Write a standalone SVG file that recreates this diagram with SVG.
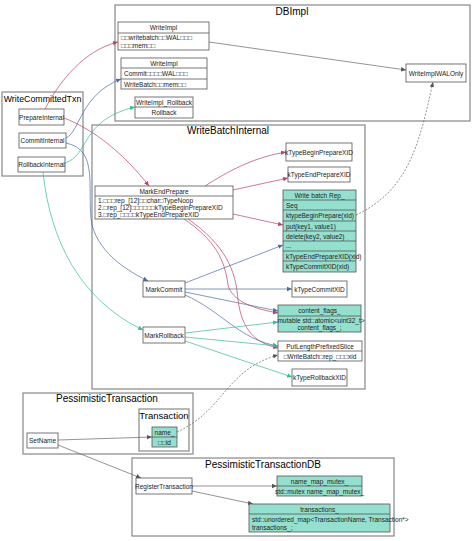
<svg xmlns="http://www.w3.org/2000/svg" width="474" height="541" viewBox="0 0 474 541">
<style>
text{font-family:"Liberation Sans","DejaVu Sans",Arial,sans-serif;fill:#222}
.t{font-size:6.5px;text-anchor:middle}
.l{font-size:6.5px;text-anchor:start}
.ct{font-size:10px;text-anchor:middle;fill:#000}
.cl{fill:none;stroke:#888;stroke-width:1.2}
.n{fill:#fff;stroke:#555;stroke-width:0.8}
.r{fill:#93e0cf;stroke:#555;stroke-width:0.8}
.sp{stroke:#555;stroke-width:0.8}
.e{fill:none;stroke-width:0.7}
.red{stroke:#c04060}
.blue{stroke:#4a6aa8}
.green{stroke:#30c090}
.gray{stroke:#666}
.dash{stroke-dasharray:2,1.5}
</style>
<defs>
<marker id="ar" markerWidth="6" markerHeight="6" refX="5" refY="3" orient="auto" markerUnits="userSpaceOnUse"><path d="M0,0.8 L5,3 L0,5.2z" fill="#c04060"/></marker>
<marker id="ab" markerWidth="6" markerHeight="6" refX="5" refY="3" orient="auto" markerUnits="userSpaceOnUse"><path d="M0,0.8 L5,3 L0,5.2z" fill="#4a6aa8"/></marker>
<marker id="ag" markerWidth="6" markerHeight="6" refX="5" refY="3" orient="auto" markerUnits="userSpaceOnUse"><path d="M0,0.8 L5,3 L0,5.2z" fill="#30c090"/></marker>
<marker id="ay" markerWidth="6" markerHeight="6" refX="5" refY="3" orient="auto" markerUnits="userSpaceOnUse"><path d="M0,0.8 L5,3 L0,5.2z" fill="#555"/></marker>
</defs>
<rect width="474" height="541" fill="#fff"/>

<g id="clusters">
<g id="cluster_DBImpl"><rect class="cl" x="115" y="5" width="355" height="116"/><text class="ct" x="292" y="15">DBImpl</text></g>
<g id="cluster_WriteCommittedTxn"><rect class="cl" x="2" y="92" width="81" height="84"/><text class="ct" x="42.5" y="102" style="font-size:8.8px">WriteCommittedTxn</text></g>
<g id="cluster_WriteBatchInternal"><rect class="cl" x="92" y="125" width="273" height="264"/><text class="ct" x="228" y="134">WriteBatchInternal</text></g>
<g id="cluster_PessimisticTransaction"><rect class="cl" x="23" y="393" width="170" height="61"/><text class="ct" x="107" y="402">PessimisticTransaction</text></g>
<g id="cluster_Transaction"><rect class="cl" x="139" y="409" width="50" height="42"/><text class="ct" x="164" y="419" style="font-size:9.5px">Transaction</text></g>
<g id="cluster_PessimisticTransactionDB"><rect class="cl" x="132" y="458" width="262" height="78"/><text class="ct" x="263" y="468">PessimisticTransactionDB</text></g>
</g>

<g id="edges">
<path class="e red" d="M45,109 C60,80 85,50 118,42" marker-end="url(#ar)"/>
<path class="e red" d="M64,118 C95,130 125,155 149,186" marker-end="url(#ar)"/>
<path class="e blue" d="M66,138 C80,132 80,95 121,79" marker-end="url(#ab)"/>
<path class="e blue" d="M66,143 C100,150 86,190 92,225 C100,255 130,272 148,281" marker-end="url(#ab)"/>
<path class="e green" d="M65,163 C90,155 80,120 135,107" marker-end="url(#ag)"/>
<path class="e green" d="M43,172 C50,240 80,300 143,330" marker-end="url(#ag)"/>
<path class="e gray" d="M209,42 L406,70" marker-end="url(#ay)"/>
<path class="e gray dash" d="M356,215 C410,190 420,140 433,82" marker-end="url(#ay)"/>
<path class="e red" d="M205,186 C230,170 255,157 286,152" marker-end="url(#ar)"/>
<path class="e red" d="M233,190 L288,178" marker-end="url(#ar)"/>
<path class="e red" d="M233,214 L283,225" marker-end="url(#ar)"/>
<path class="e red" d="M184,219 C215,240 225,260 228,285 C232,300 250,308 278,313" marker-end="url(#ar)"/>
<path class="e red" d="M188,219 C225,245 236,270 238,300 C242,330 255,343 278,348" marker-end="url(#ar)"/>
<path class="e blue" d="M185,283 L283,245" marker-end="url(#ab)"/>
<path class="e blue" d="M185,289 L292,289" marker-end="url(#ab)"/>
<path class="e blue" d="M185,292 L278,311" marker-end="url(#ab)"/>
<path class="e blue" d="M185,295 C220,310 240,340 278,346" marker-end="url(#ab)"/>
<path class="e green" d="M185,333 L278,322" marker-end="url(#ag)"/>
<path class="e green" d="M185,337 L278,346" marker-end="url(#ag)"/>
<path class="e green" d="M185,341 L292,377" marker-end="url(#ag)"/>
<path class="e gray dash" d="M177,432 C225,410 225,370 278,355" marker-end="url(#ay)"/>
<path class="e gray" d="M58,440 L152,437" marker-end="url(#ay)"/>
<path class="e gray" d="M58,445 L141,478" marker-end="url(#ay)"/>
<path class="e gray" d="M192,486 L277,486" marker-end="url(#ay)"/>
<path class="e gray" d="M192,491 L253,504" marker-end="url(#ay)"/>
</g>

<g id="WriteImpl1"><rect class="n" x="118" y="22" width="91" height="28"/><line class="sp" x1="118" y1="33" x2="209" y2="33"/><text class="t" x="163.5" y="30">WriteImpl</text><text class="l" x="121" y="40">□□writebatch□□WAL□□□</text><text class="l" x="121" y="47.5">□□□mem□□</text></g>
<g id="WriteImpl2"><rect class="n" x="121" y="58" width="86" height="31"/><line class="sp" x1="121" y1="68" x2="207" y2="68"/><line class="sp" x1="121" y1="79" x2="207" y2="79"/><text class="t" x="164" y="65.5">WriteImpl</text><text class="l" x="124" y="76">Commit□□□□WAL□□□</text><text class="l" x="124" y="86.5">WriteBatch□□mem□□</text></g>
<g id="WriteImpl_Rollback"><rect class="n" x="135" y="97" width="58" height="21"/><line class="sp" x1="135" y1="107" x2="193" y2="107"/><text class="t" x="164" y="104.5">WriteImpl_Rollback</text><text class="t" x="164" y="115">Rollback</text></g>
<g id="WriteImplWALOnly"><rect class="n" x="406" y="64" width="60" height="18"/><text class="t" x="436" y="75.5">WriteImplWALOnly</text></g>

<g id="PrepareInternal"><rect class="n" x="19" y="109" width="45" height="16"/><text class="t" x="41.5" y="119.5">PrepareInternal</text></g>
<g id="CommitInternal"><rect class="n" x="19" y="133" width="47" height="15"/><text class="t" x="42.5" y="143">CommitInternal</text></g>
<g id="RollbackInternal"><rect class="n" x="18" y="157" width="47" height="15"/><text class="t" x="41.5" y="167">RollbackInternal</text></g>

<g id="kTypeBeginPrepareXID"><rect class="n" x="286" y="143" width="66" height="18"/><text class="t" x="319" y="154.5">kTypeBeginPrepareXID</text></g>
<g id="kTypeEndPrepareXID"><rect class="n" x="288" y="167" width="62" height="15"/><text class="t" x="319" y="177">kTypeEndPrepareXID</text></g>
<g id="MarkEndPrepare"><rect class="n" x="95" y="186" width="138" height="33"/><line class="sp" x1="95" y1="196" x2="233" y2="196"/><text class="t" x="164" y="193.5">MarkEndPrepare</text><text class="l" x="98" y="203">1.□□□rep_[12]□□char□TypeNoop</text><text class="l" x="98" y="210">2.□rep_[12]□□□□□□kTypeBeginPrepareXID</text><text class="l" x="98" y="217">3.□rep_□□□□kTypeEndPrepareXID</text></g>
<g id="WriteBatchRep"><rect class="r" x="283" y="190" width="73" height="82"/>
<line class="sp" x1="283" y1="200" x2="356" y2="200"/><line class="sp" x1="283" y1="210" x2="356" y2="210"/><line class="sp" x1="283" y1="221" x2="356" y2="221"/><line class="sp" x1="283" y1="231" x2="356" y2="231"/><line class="sp" x1="283" y1="241" x2="356" y2="241"/><line class="sp" x1="283" y1="251" x2="356" y2="251"/><line class="sp" x1="283" y1="261" x2="356" y2="261"/>
<text class="t" x="319.5" y="197.5">Write batch Rep_</text><text class="l" x="286" y="207.5">Seq</text><text class="l" x="286" y="218">ktypeBeginPrepare(xid)</text><text class="l" x="286" y="228.5">put(key1, value1)</text><text class="l" x="286" y="238.5">delete(key2, value2)</text><text class="l" x="286" y="248">...</text><text class="l" x="286" y="258.5">kTypeEndPrepareXID(xid)</text><text class="l" x="286" y="269">kTypeCommitXID(xid)</text></g>
<g id="MarkCommit"><rect class="n" x="143" y="281" width="42" height="16"/><text class="t" x="164" y="291.5">MarkCommit</text></g>
<g id="kTypeCommitXID"><rect class="n" x="292" y="281" width="55" height="16"/><text class="t" x="319.5" y="291.5">kTypeCommitXID</text></g>
<g id="content_flags"><rect class="r" x="278" y="305" width="83" height="27"/><line class="sp" x1="278" y1="316" x2="361" y2="316"/><text class="t" x="319.5" y="313">content_flags_</text><text class="t" x="321" y="322.5">mutable std::atomic&lt;uint32_t&gt;</text><text class="t" x="319.5" y="329.5">content_flags_;</text></g>
<g id="MarkRollback"><rect class="n" x="143" y="327" width="42" height="16"/><text class="t" x="164" y="337.5">MarkRollback</text></g>
<g id="PutLengthPrefixedSlice"><rect class="n" x="278" y="341" width="84" height="20"/><line class="sp" x1="278" y1="351" x2="362" y2="351"/><text class="t" x="320" y="348.5">PutLengthPrefixedSlice</text><text class="t" x="320" y="358.5">□WriteBatch□rep_□□□xid</text></g>
<g id="kTypeRollbackXID"><rect class="n" x="292" y="369" width="55" height="17"/><text class="t" x="319.5" y="380">kTypeRollbackXID</text></g>

<g id="SetName"><rect class="n" x="27" y="433" width="31" height="15"/><text class="t" x="42.5" y="443">SetName</text></g>
<g id="name_"><rect class="r" x="152" y="427" width="25" height="20"/><line class="sp" x1="152" y1="437" x2="177" y2="437"/><text class="t" x="164.5" y="434.5">name_</text><text class="t" x="164.5" y="444.5">□□id</text></g>

<g id="RegisterTransaction"><rect class="n" x="136" y="478" width="56" height="16"/><text class="t" x="164" y="488.5">RegisterTransaction</text></g>
<g id="name_map_mutex"><rect class="r" x="277" y="476" width="85" height="20"/><line class="sp" x1="277" y1="486" x2="362" y2="486"/><text class="t" x="319.5" y="483.5">name_map_mutex_</text><text class="t" x="319.5" y="493.5">std::mutex name_map_mutex_</text></g>
<g id="transactions"><rect class="r" x="249" y="504" width="141" height="28"/><line class="sp" x1="249" y1="514" x2="390" y2="514"/><text class="t" x="319.5" y="511.5">transactions_</text><text class="l" x="252" y="522">std::unordered_map&lt;TransactionName, Transaction*&gt;</text><text class="l" x="252" y="529.5">transactions_;</text></g>
</svg>
